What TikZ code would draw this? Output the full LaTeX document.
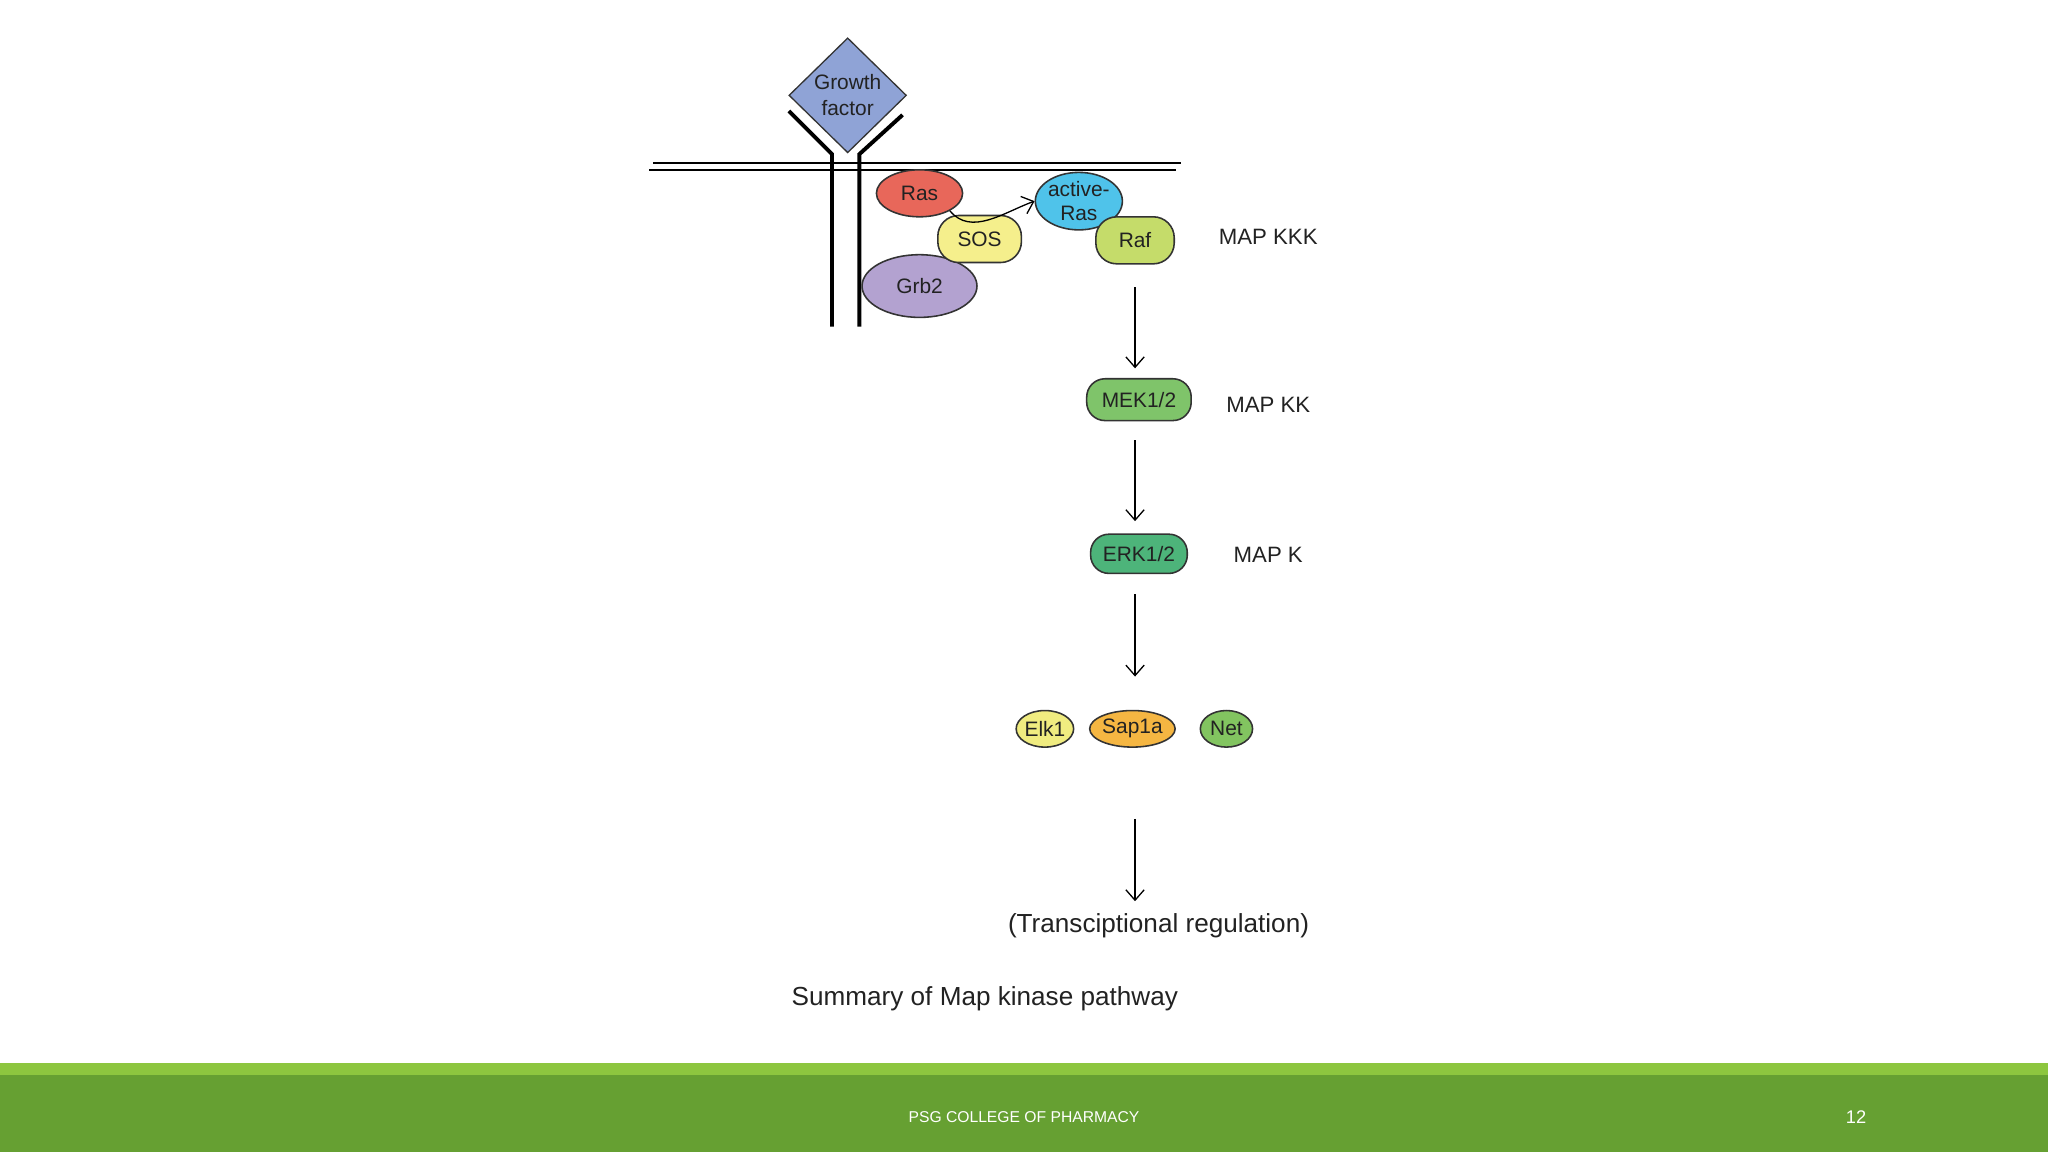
\documentclass[tikz,border=0pt]{standalone}
\usepackage{fontspec}
\setmainfont{Liberation Sans}
\usetikzlibrary{shapes.geometric,arrows.meta}
\definecolor{gf}{HTML}{8FA3D6}
\definecolor{ras}{HTML}{E8675A}
\definecolor{sos}{HTML}{F5EF8C}
\definecolor{grb}{HTML}{B3A2D0}
\definecolor{aras}{HTML}{4FC3EA}
\definecolor{raf}{HTML}{C5DC6A}
\definecolor{mek}{HTML}{7FC46A}
\definecolor{erk}{HTML}{4DB47A}
\definecolor{elk}{HTML}{F0EC80}
\definecolor{sap}{HTML}{F5B642}
\definecolor{net}{HTML}{82C460}
\definecolor{bandl}{HTML}{8DC63F}
\definecolor{bandd}{HTML}{66A032}
\definecolor{txt}{HTML}{222222}
\begin{document}
\begin{tikzpicture}[x=1pt,y=-1pt,
  el/.style={ellipse,draw=black!80,line width=1.2pt,inner sep=0pt,text=txt,font=\fontsize{16}{17}\selectfont},
  rr/.style={rounded corners=14pt,draw=black!80,line width=1.2pt,inner sep=0pt,text=txt,font=\fontsize{16}{17}\selectfont},
  lab/.style={font=\fontsize{17}{19}\selectfont,text=txt},
  arr/.style={line width=1pt,-{Straight Barb[length=8pt,width=14pt]}},
  rec/.style={line width=3pt}]
\useasboundingbox (0,0) rectangle (1568,882);
\fill[white] (0,0) rectangle (1568,882);
% receptor
\draw[rec] (604,85) -- (637,118) -- (637,250);
\draw[rec] (691,88) -- (658,118) -- (658,250);
\node[diamond,draw=black!80,fill=gf,line width=1pt,minimum width=90pt,minimum height=88pt,inner sep=0pt,align=center,text=txt,font=\fontsize{16}{20}\selectfont] (gf) at (649,73) {Growth\\factor};
% membrane
\draw[line width=1.2pt] (500,125) -- (904,125);
\draw[line width=1.2pt] (497,130) -- (900,130);
\node[el,fill=grb,minimum width=88pt,minimum height=48pt] (grb) at (704,219) {Grb2};
\node[rr,rounded corners=16pt,fill=sos,minimum width=64pt,minimum height=36pt] (sos) at (750,183) {SOS};
\node[el,fill=ras,minimum width=66pt,minimum height=36pt] (ras) at (704,148) {Ras};
\node[el,fill=aras,minimum width=66pt,minimum height=44pt,align=center,font=\fontsize{16}{18}\selectfont] (aras) at (826,154) {active-\\Ras};
\node[rr,rounded corners=16pt,fill=raf,minimum width=60pt,minimum height=36pt] (raf) at (869,184) {Raf};
\draw[arr] (ras.-30) to[out=-50,in=200] (aras.west);
\node[lab] (mkkk) at (971,181) {MAP KKK};
\node[rr,fill=mek,minimum width=80pt,minimum height=32pt] (mek) at (872,306) {MEK1/2};
\node[lab] (mkk) at (971,310) {MAP KK};
\coordinate (a1) at (869,220);
\coordinate (a1e) at (869,282);
\draw[arr] (a1) -- (a1e);
\coordinate (a2) at (869,337);
\coordinate (a2e) at (869,399);
\draw[arr] (a2) -- (a2e);
\node[rr,fill=erk,minimum width=74pt,minimum height=30pt] (erk) at (872,424) {ERK1/2};
\node[lab] (mk) at (971,425) {MAP K};
\coordinate (a3) at (869,455);
\coordinate (a3e) at (869,518);
\draw[arr] (a3) -- (a3e);
\node[el,fill=elk,minimum width=40pt,minimum height=28pt] (elk) at (800,558) {Elk1};
\node[el,fill=sap,minimum width=62pt,minimum height=28pt] (sap) at (867,558) {Sap1a};
\node[el,fill=net,minimum width=40pt,minimum height=28pt] (net) at (939,558) {Net};
\coordinate (a4) at (869,627);
\coordinate (a4e) at (869,690);
\draw[arr] (a4) -- (a4e);
\node[font=\fontsize{20}{22}\selectfont,text=txt] (tr) at (887,709) {(Transciptional regulation)};
\node[font=\fontsize{20}{22}\selectfont,text=txt] (sum) at (754,765) {Summary of Map kinase pathway};
% footer
\fill[bandl] (0,814) rectangle (1568,823);
\fill[bandd] (0,823) rectangle (1568,882);
\node[text=white,font=\fontsize{12}{14}\selectfont] (ft) at (784,855) {PSG COLLEGE OF PHARMACY};
\node[text=white,font=\fontsize{14}{16}\selectfont] (pg) at (1421,855) {12};
\end{tikzpicture}
\end{document}
